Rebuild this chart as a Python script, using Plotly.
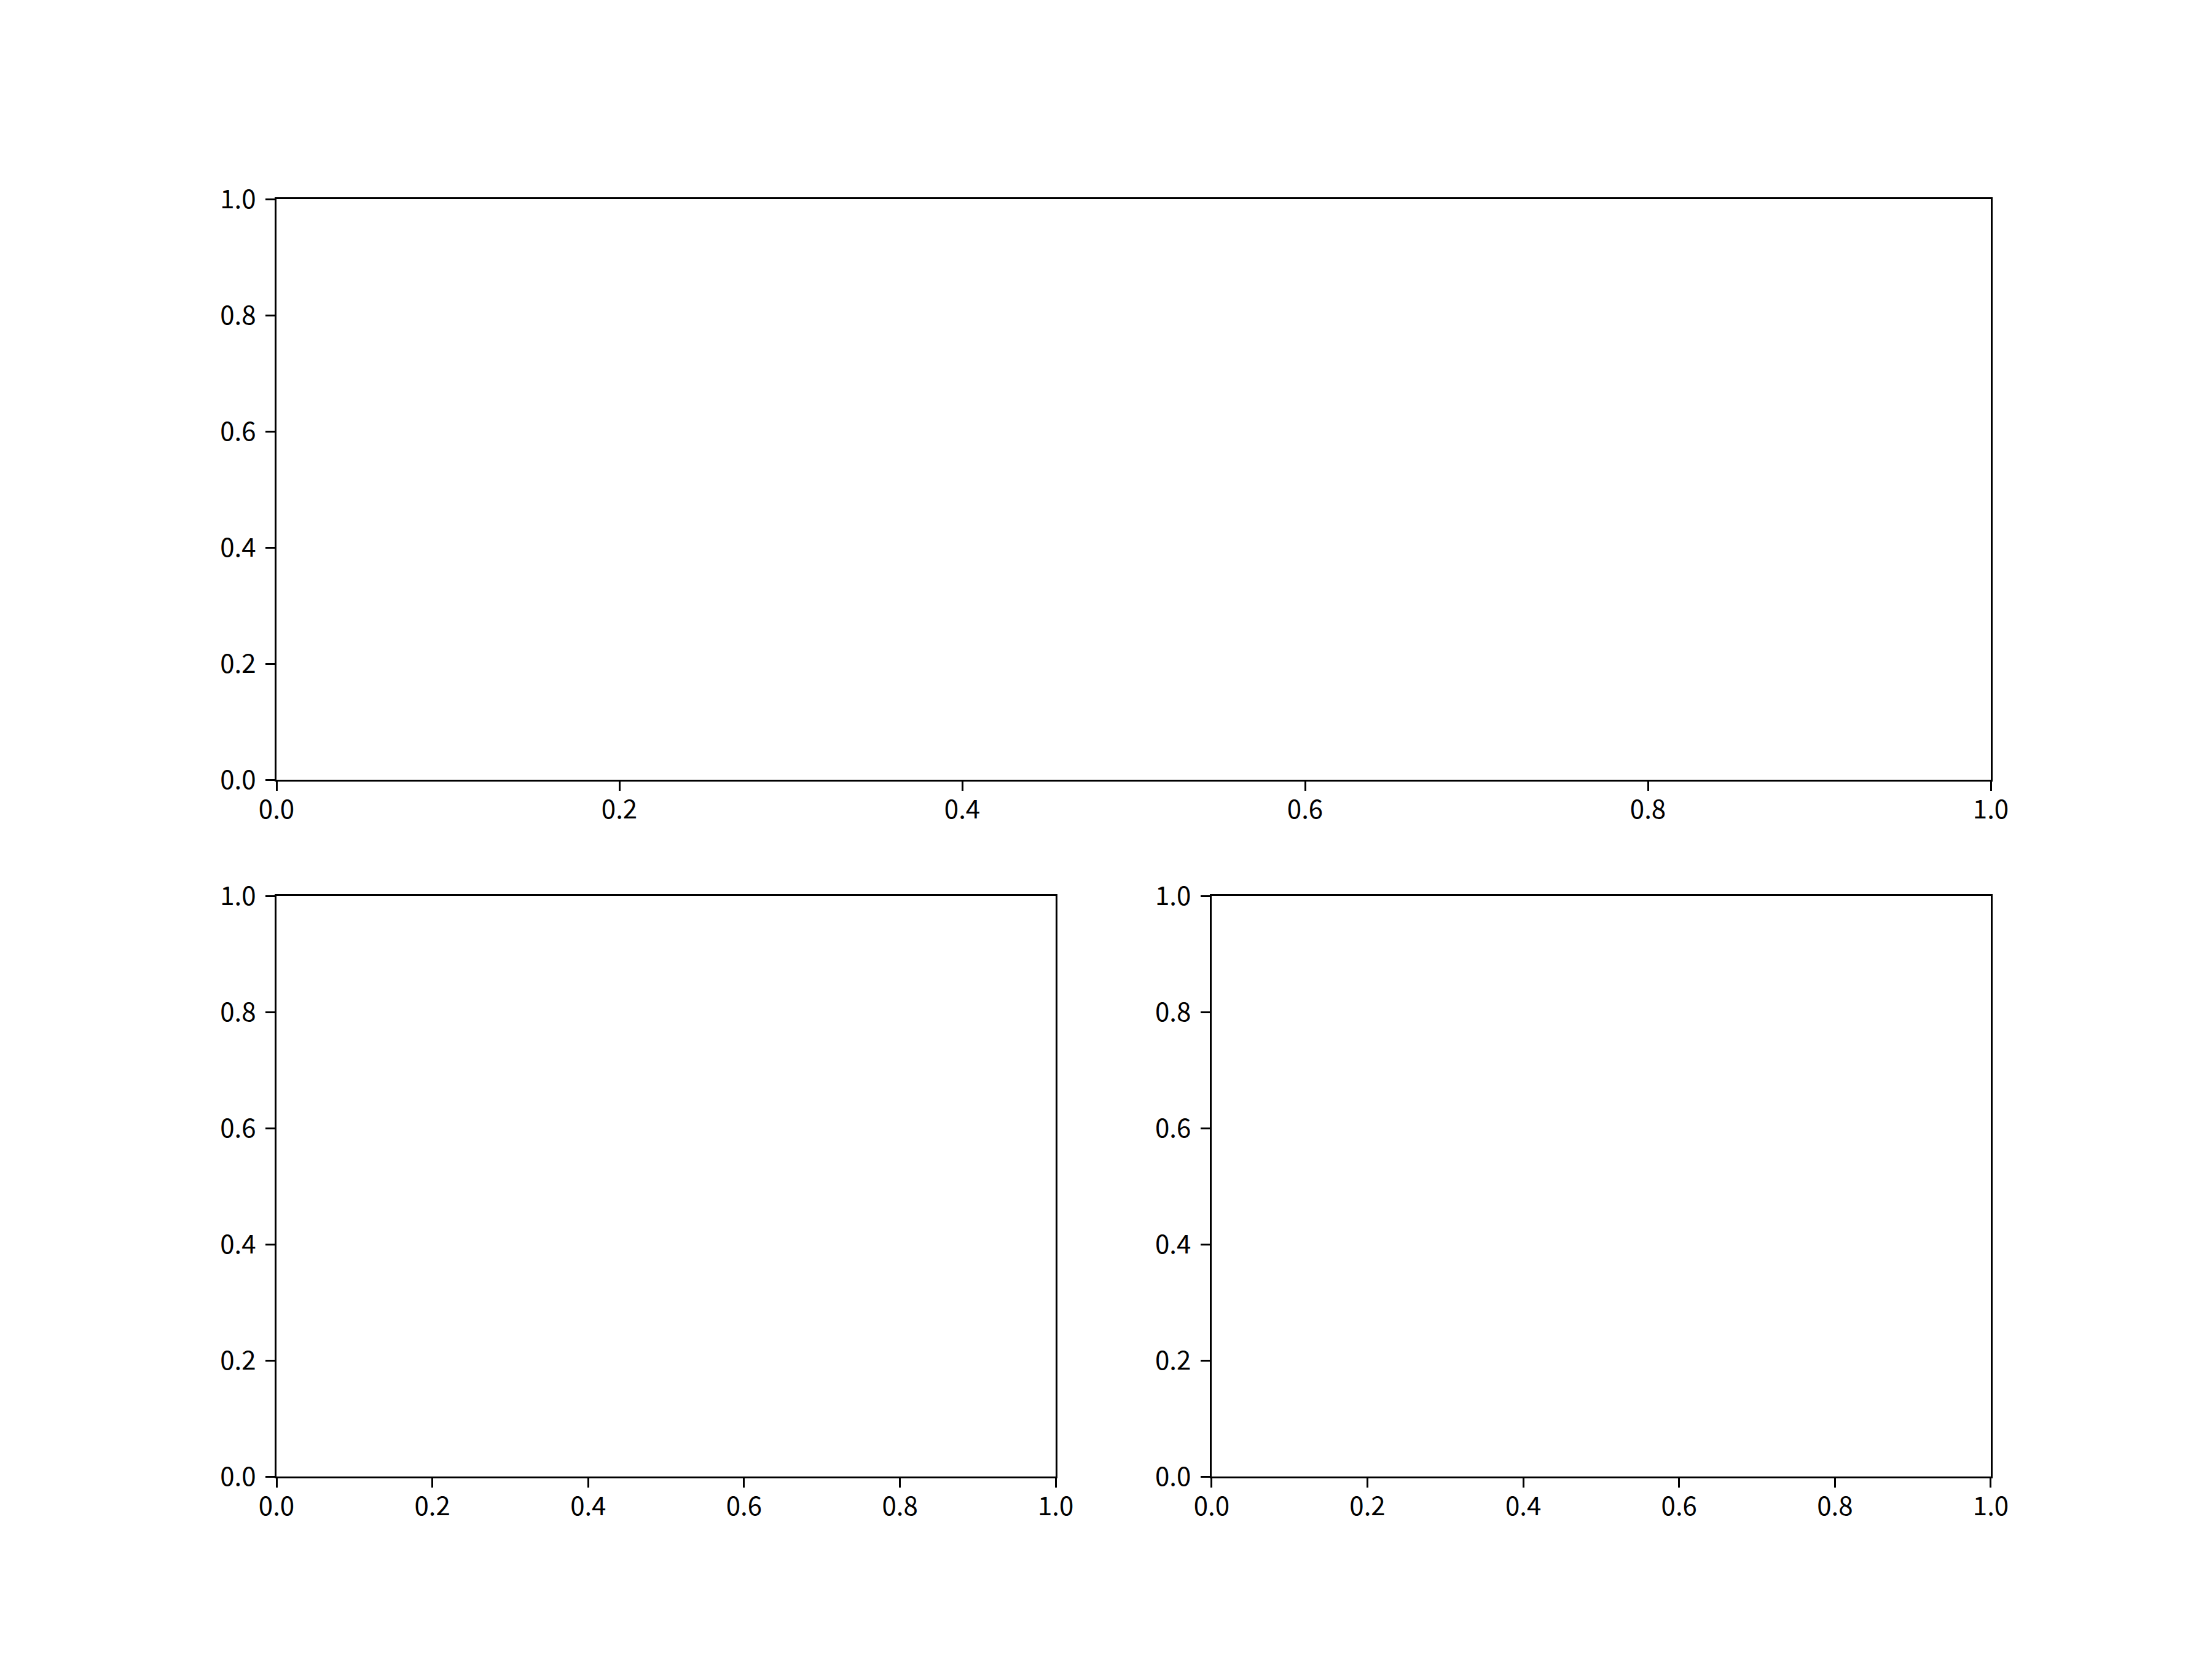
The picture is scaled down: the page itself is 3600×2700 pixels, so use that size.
import plotly.graph_objects as go

# Empty axes: all three subplots share the same default range and ticks
x_range = [0.0, 1.0]
y_range = [0.0, 1.0]
tick_values = [0.0, 0.2, 0.4, 0.6, 0.8, 1.0]
tick_labels = ["0.0", "0.2", "0.4", "0.6", "0.8", "1.0"]

W, H = 3600, 2700
FONT = "Noto Sans CJK SC"
LW = 3.3

# compensate for the 8px body margin of the html page
DX = 8 / W
DY = 8 / H

fig = go.Figure()

w_half = 0.775 / 2.2
domains = {
    "1": ([0.125 - DX, 0.9 - DX], [0.53 + DY, 0.88 + DY]),
    "2": ([0.125 - DX, 0.125 + w_half - DX], [0.11 + DY, 0.46 + DY]),
    "3": ([0.9 - w_half - DX, 0.9 - DX], [0.11 + DY, 0.46 + DY]),
}

layout = dict(
    width=W, height=H,
    margin=dict(l=0, r=0, t=0, b=0, pad=0),
    paper_bgcolor="white", plot_bgcolor="white",
    showlegend=False,
    font=dict(family=FONT, size=42, color="black"),
)

for k, (xd, yd) in domains.items():
    suf = "" if k == "1" else k
    fig.add_trace(go.Scatter(x=[], y=[], xaxis="x" + suf, yaxis="y" + suf,
                             mode="markers", showlegend=False, hoverinfo="skip"))
    common = dict(
        showline=True, mirror=True, linecolor="black", linewidth=LW,
        showgrid=False, zeroline=False,
        ticks="outside", ticklen=15, tickwidth=LW, tickcolor="black",
        tickvals=tick_values, ticktext=tick_labels,
        tickfont=dict(family=FONT, size=42, color="black"),
        automargin=False,
        fixedrange=True,
    )
    layout["xaxis" + suf] = dict(domain=xd, range=x_range, anchor="y" + suf,
                                 ticklabelstandoff=-6, **common)
    layout["yaxis" + suf] = dict(domain=yd, range=y_range, anchor="x" + suf,
                                 ticklabelstandoff=7, **common)

fig.update_layout(**layout)
fig.write_html("out.html")
